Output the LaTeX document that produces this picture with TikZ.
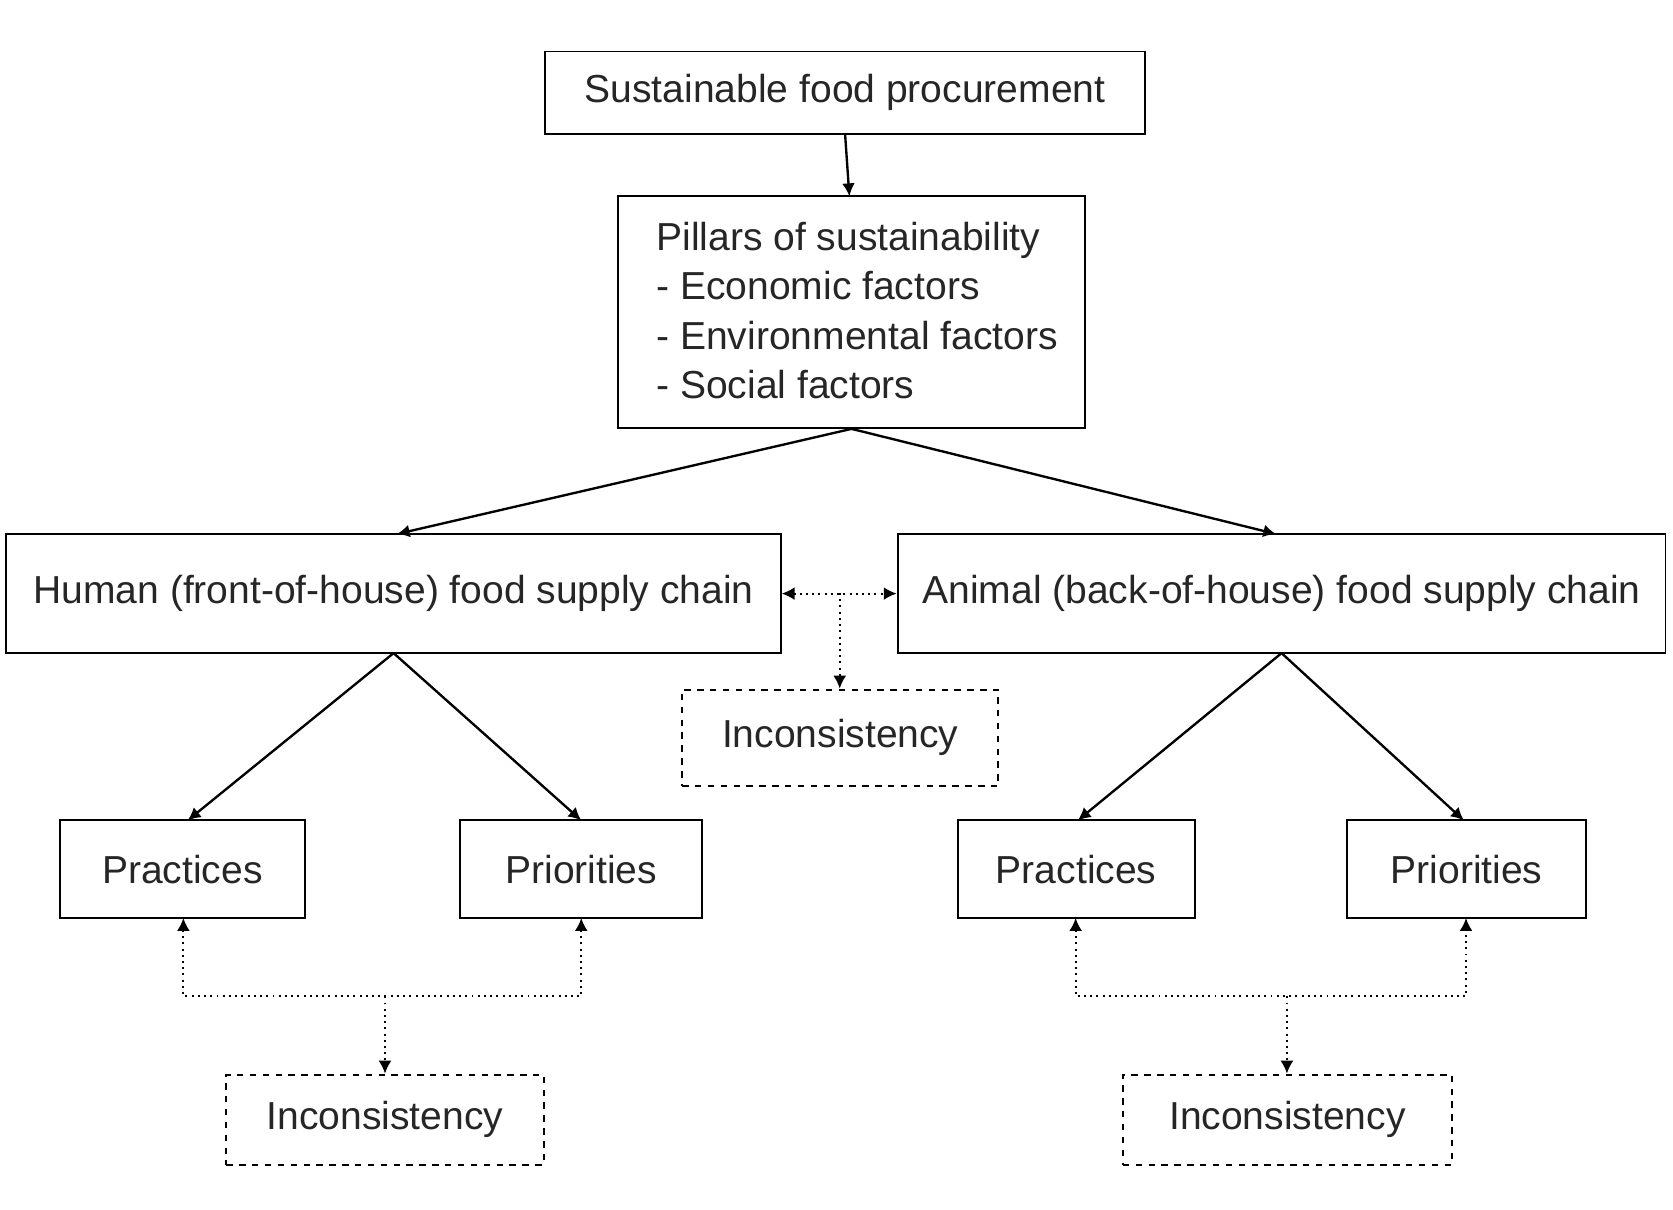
\documentclass[tikz,border=0pt]{standalone}
\usepackage{fontspec}
\setmainfont{Liberation Sans}
\usetikzlibrary{arrows.meta}
\begin{document}
\begin{tikzpicture}[x=0.5pt,y=-0.5pt,
 box/.style={draw,line width=0.9pt,inner sep=0pt},
 dbox/.style={box,dashed},
 lbl/.style={font=\fontsize{18.2}{22}\selectfont,text=black!85},
 arr/.style={-{Latex[length=6pt,width=6pt]},line width=1.1pt},
 darr/.style={{Latex[length=6pt,width=6pt]}-{Latex[length=6pt,width=6pt]},dotted,line width=0.9pt},
 dline/.style={dotted,line width=0.9pt,-{Latex[length=6pt,width=6pt]}}]
\useasboundingbox (0,0) rectangle (1560,1128);
\newcommand{\bx}[6]{\node[#1,minimum width={(#4-#3)*0.5pt},minimum height={(#6-#5)*0.5pt}] (#2) at ({(#3+#4)/2},{(#5+#6)/2}) {};}
\bx{box}{top}{508}{1068}{48}{125}
\node[lbl] at (top) {Sustainable food procurement};
\bx{box}{pil}{576}{1012}{183}{399}
\node[lbl,font=\fontsize{18.2}{23}\selectfont,align=left,anchor=north west] at (605,200) {Pillars of sustainability\\- Economic factors\\- Environmental factors\\- Social factors};
\bx{box}{hum}{6}{728}{498}{609}
\node[lbl] at (hum) {Human (front-of-house) food supply chain};
\bx{box}{ani}{837}{1553}{498}{609}
\node[lbl] at (ani) {Animal (back-of-house) food supply chain};
\bx{dbox}{incm}{636}{931}{643}{733}
\node[lbl] at (incm) {Inconsistency};
\bx{box}{pracl}{56}{284}{765}{856}
\node[lbl] at (pracl) {Practices};
\bx{box}{pril}{429}{655}{765}{856}
\node[lbl] at (pril) {Priorities};
\bx{box}{pracr}{893}{1114}{765}{856}
\node[lbl] at (pracr) {Practices};
\bx{box}{prir}{1256}{1479}{765}{856}
\node[lbl] at (prir) {Priorities};
\bx{dbox}{incl}{211}{507}{1002}{1086}
\node[lbl] at (incl) {Inconsistency};
\bx{dbox}{incr}{1047}{1354}{1002}{1086}
\node[lbl] at (incr) {Inconsistency};
\draw[arr] (788,125) -- (792,183);
\draw[arr] (pil.south) -- (370,498);
\draw[arr] (pil.south) -- (1190,498);
\draw[arr] (367,609) -- (175,765);
\draw[arr] (367,609) -- (542,765);
\draw[arr] (1195,609) -- (1005,765);
\draw[arr] (1195,609) -- (1365,765);
\coordinate (mj) at (783,553);
\draw[darr] (hum.east) -- (ani.west);
\draw[dline] (mj) -- (incm.north -| mj);
\draw[darr] (171,856) -- (171,929) -- (542,929) -- (542,856);
\draw[dline] (359,929) -- (incl.north -| 359,0);
\draw[darr] (1003,856) -- (1003,929) -- (1367,929) -- (1367,856);
\draw[dline] (1200,929) -- (incr.north -| 1200,0);
\end{tikzpicture}
\end{document}
